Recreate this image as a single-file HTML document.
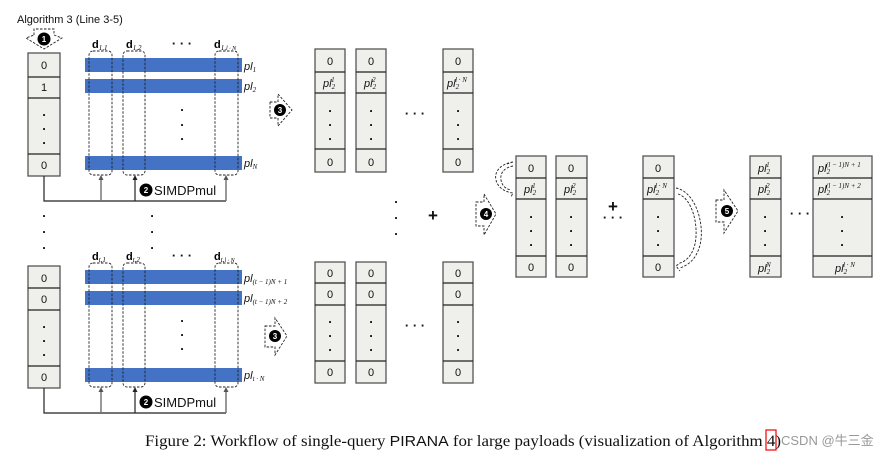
<!DOCTYPE html>
<html><head><meta charset="utf-8"><style>
body{margin:0;background:#fff;width:896px;height:456px;overflow:hidden}
svg{display:block}
.c{fill:#efefec;stroke:#555;stroke-width:1.3}
.t{font-family:"Liberation Sans",sans-serif;font-size:11px;fill:#111;text-anchor:middle}
.i{font-family:"Liberation Sans",sans-serif;font-size:11px;font-style:italic;fill:#111}
.s{font-family:"Liberation Serif",serif;font-size:7px;font-style:italic}
.b{fill:#4472c4}
.d{fill:none;stroke:#222;stroke-width:0.9;stroke-dasharray:2.5,1.5}
.n{font-family:"Liberation Sans",sans-serif;font-size:8px;font-weight:bold;fill:#fff;text-anchor:middle}
.l{stroke:#222;stroke-width:1.2;fill:none}
.g{stroke:#777;stroke-width:1.5;fill:none}
.dot{font-family:"Liberation Sans",sans-serif;font-size:13px;font-weight:bold;fill:#111;text-anchor:middle}
</style></head><body>
<svg width="896" height="456" viewBox="0 0 896 456">
<text x="17" y="23" font-family="Liberation Sans,sans-serif" font-size="11" fill="#111">Algorithm 3 (Line 3-5)</text>
<path class="d" d="M34,35 L34,29 L54,29 L54,35 L62,38 L44,49 L26,38 Z"/>
<circle cx="44" cy="39" r="6.5" fill="#000"/><text class="n" x="44" y="42">1</text>

<rect class="c" x="28" y="53" width="32" height="123"/>
<line class="l" x1="28" y1="77" x2="60" y2="77"/><line class="l" x1="28" y1="98" x2="60" y2="98"/><line class="l" x1="28" y1="154" x2="60" y2="154"/>
<text class="t" x="44" y="69">0</text><text class="t" x="44" y="91">1</text><text class="t" x="44" y="169">0</text>
<text class="dot" x="44" y="116">.</text><text class="dot" x="44" y="130">.</text><text class="dot" x="44" y="144">.</text>
<rect class="b" x="85" y="58" width="157" height="14"/>
<rect class="b" x="85" y="79" width="157" height="14"/>
<rect class="b" x="85" y="156" width="157" height="14"/>
<rect class="d" x="89" y="51" width="23" height="124" rx="4"/>
<rect class="d" x="123" y="51" width="22" height="124" rx="4"/>
<rect class="d" x="215" y="51" width="23" height="124" rx="4"/>
<text x="92" y="48" font-family="Liberation Sans,sans-serif" font-size="11" font-weight="bold">d<tspan class="s" font-weight="normal" dy="2">1,1</tspan></text>
<text x="126" y="48" font-family="Liberation Sans,sans-serif" font-size="11" font-weight="bold">d<tspan class="s" font-weight="normal" dy="2">1,2</tspan></text>
<text x="214" y="48" font-family="Liberation Sans,sans-serif" font-size="11" font-weight="bold">d<tspan class="s" font-weight="normal" dy="2">1,<tspan font-size="6">l · N</tspan></tspan></text>
<text class="dot" x="182" y="48">· · ·</text>
<text class="dot" x="182" y="111">.</text><text class="dot" x="182" y="126">.</text><text class="dot" x="182" y="140">.</text>
<text class="i" x="244" y="70">pl<tspan class="s" dy="2">1</tspan></text>
<text class="i" x="244" y="90">pl<tspan class="s" dy="2">2</tspan></text>
<text class="i" x="244" y="167">pl<tspan class="s" dy="2">N</tspan></text>
<path class="l" d="M44,176 L44,201 L226,201"/>
<path class="g" d="M101,201 L101,177"/><path d="M98.5,180 L101,175 L103.5,180Z" fill="#555"/>
<path class="l" d="M135,201 L135,177"/><path d="M132.5,180 L135,175 L137.5,180Z" fill="#222"/>
<path class="g" d="M226,201 L226,177"/><path d="M223.5,180 L226,175 L228.5,180Z" fill="#555"/>
<circle cx="146" cy="190" r="6.5" fill="#000"/><text class="n" x="146" y="193">2</text>
<text x="154" y="195" font-family="Liberation Sans,sans-serif" font-size="13" fill="#111">SIMDPmul</text>

<path class="d" d="M270,102 L278,102 L278,94 L292,110 L278,126 L278,118 L270,118 Z"/>
<circle cx="280" cy="110" r="6" fill="#000"/><text class="n" x="280" y="113">3</text>

<rect class="c" x="315" y="49" width="30" height="123"/><rect class="c" x="356" y="49" width="30" height="123"/><rect class="c" x="443" y="49" width="30" height="123"/>
<path class="l" d="M315,72H345M315,93H345M315,149H345M356,72H386M356,93H386M356,149H386M443,72H473M443,93H473M443,149H473"/>
<text class="t" x="330" y="65">0</text><text class="t" x="371" y="65">0</text><text class="t" x="458" y="65">0</text>
<text class="t" x="330" y="166">0</text><text class="t" x="371" y="166">0</text><text class="t" x="458" y="166">0</text>
<text class="i" x="323" y="87">pl<tspan class="s" dy="2">2</tspan><tspan class="s" dx="-4" dy="-7">1</tspan></text>
<text class="i" x="364" y="87">pl<tspan class="s" dy="2">2</tspan><tspan class="s" dx="-4" dy="-7">2</tspan></text>
<text class="i" x="447" y="87">pl<tspan class="s" dy="2">2</tspan><tspan class="s" dx="-4" dy="-7">l · N</tspan></text>
<text class="dot" x="330" y="112">.</text><text class="dot" x="330" y="126">.</text><text class="dot" x="330" y="140">.</text>
<text class="dot" x="371" y="112">.</text><text class="dot" x="371" y="126">.</text><text class="dot" x="371" y="140">.</text>
<text class="dot" x="458" y="112">.</text><text class="dot" x="458" y="126">.</text><text class="dot" x="458" y="140">.</text>
<text class="dot" x="415" y="118">· · ·</text>

<text class="dot" x="44" y="217">.</text><text class="dot" x="44" y="233">.</text><text class="dot" x="44" y="249">.</text>
<text class="dot" x="152" y="217">.</text><text class="dot" x="152" y="233">.</text><text class="dot" x="152" y="249">.</text>
<text class="dot" x="396" y="203">.</text><text class="dot" x="396" y="219">.</text><text class="dot" x="396" y="235">.</text>
<text x="433" y="221" font-family="Liberation Sans,sans-serif" font-size="17" font-weight="bold" text-anchor="middle" fill="#111">+</text>

<rect class="c" x="28" y="266" width="32" height="122"/>
<line class="l" x1="28" y1="288" x2="60" y2="288"/><line class="l" x1="28" y1="310" x2="60" y2="310"/><line class="l" x1="28" y1="366" x2="60" y2="366"/>
<text class="t" x="44" y="282">0</text><text class="t" x="44" y="303">0</text><text class="t" x="44" y="381">0</text>
<text class="dot" x="44" y="328">.</text><text class="dot" x="44" y="342">.</text><text class="dot" x="44" y="356">.</text>
<rect class="b" x="85" y="270" width="157" height="14"/>
<rect class="b" x="85" y="291" width="157" height="14"/>
<rect class="b" x="85" y="368" width="157" height="14"/>
<rect class="d" x="89" y="263" width="23" height="124" rx="4"/>
<rect class="d" x="123" y="263" width="22" height="124" rx="4"/>
<rect class="d" x="215" y="263" width="23" height="124" rx="4"/>
<text x="92" y="260" font-family="Liberation Sans,sans-serif" font-size="11" font-weight="bold">d<tspan class="s" font-weight="normal" dy="2">t,1</tspan></text>
<text x="126" y="260" font-family="Liberation Sans,sans-serif" font-size="11" font-weight="bold">d<tspan class="s" font-weight="normal" dy="2">t,2</tspan></text>
<text x="214" y="260" font-family="Liberation Sans,sans-serif" font-size="11" font-weight="bold">d<tspan class="s" font-weight="normal" dy="2">t,<tspan font-size="6">l · N</tspan></tspan></text>
<text class="dot" x="182" y="260">· · ·</text>
<text class="dot" x="182" y="322">.</text><text class="dot" x="182" y="336">.</text><text class="dot" x="182" y="350">.</text>
<text class="i" x="244" y="282">pl<tspan class="s" dy="2">(t − 1)N + 1</tspan></text>
<text class="i" x="244" y="302">pl<tspan class="s" dy="2">(t − 1)N + 2</tspan></text>
<text class="i" x="244" y="379">pl<tspan class="s" dy="2">t · N</tspan></text>
<path class="l" d="M44,388 L44,413 L226,413"/>
<path class="g" d="M101,413 L101,389"/><path d="M98.5,392 L101,387 L103.5,392Z" fill="#555"/>
<path class="l" d="M135,413 L135,389"/><path d="M132.5,392 L135,387 L137.5,392Z" fill="#222"/>
<path class="g" d="M226,413 L226,389"/><path d="M223.5,392 L226,387 L228.5,392Z" fill="#555"/>
<circle cx="146" cy="402" r="6.5" fill="#000"/><text class="n" x="146" y="405">2</text>
<text x="154" y="407" font-family="Liberation Sans,sans-serif" font-size="13" fill="#111">SIMDPmul</text>

<path class="d" d="M265,326 L275,326 L275,318 L287,336 L275,355 L275,347 L265,347 Z"/>
<circle cx="275" cy="336" r="6" fill="#000"/><text class="n" x="275" y="339">3</text>

<rect class="c" x="315" y="262" width="30" height="121"/><rect class="c" x="356" y="262" width="30" height="121"/><rect class="c" x="443" y="262" width="30" height="121"/>
<path class="l" d="M315,283H345M315,305H345M315,361H345M356,283H386M356,305H386M356,361H386M443,283H473M443,305H473M443,361H473"/>
<text class="t" x="330" y="277">0</text><text class="t" x="371" y="277">0</text><text class="t" x="458" y="277">0</text>
<text class="t" x="330" y="298">0</text><text class="t" x="371" y="298">0</text><text class="t" x="458" y="298">0</text>
<text class="t" x="330" y="376">0</text><text class="t" x="371" y="376">0</text><text class="t" x="458" y="376">0</text>
<text class="dot" x="330" y="323">.</text><text class="dot" x="330" y="337">.</text><text class="dot" x="330" y="351">.</text>
<text class="dot" x="371" y="323">.</text><text class="dot" x="371" y="337">.</text><text class="dot" x="371" y="351">.</text>
<text class="dot" x="458" y="323">.</text><text class="dot" x="458" y="337">.</text><text class="dot" x="458" y="351">.</text>
<text class="dot" x="415" y="330">· · ·</text>

<path class="d" d="M476,202 L484,202 L484,194 L496,214 L484,235 L484,226 L476,226 Z"/>
<circle cx="486" cy="214" r="6" fill="#000"/><text class="n" x="486" y="217">4</text>

<rect class="c" x="516" y="156" width="30" height="121"/><rect class="c" x="556" y="156" width="31" height="121"/><rect class="c" x="643" y="156" width="31" height="121"/>
<path class="l" d="M516,178H546M516,199H546M516,256H546M556,178H587M556,199H587M556,256H587M643,178H674M643,199H674M643,256H674"/>
<text class="t" x="531" y="172">0</text><text class="t" x="571" y="172">0</text><text class="t" x="658" y="172">0</text>
<text class="t" x="531" y="271">0</text><text class="t" x="571" y="271">0</text><text class="t" x="658" y="271">0</text>
<text class="i" x="524" y="193">pl<tspan class="s" dy="2">2</tspan><tspan class="s" dx="-4" dy="-7">1</tspan></text>
<text class="i" x="564" y="193">pl<tspan class="s" dy="2">2</tspan><tspan class="s" dx="-4" dy="-7">2</tspan></text>
<text class="i" x="647" y="193">pl<tspan class="s" dy="2">2</tspan><tspan class="s" dx="-4" dy="-7">l · N</tspan></text>
<text class="dot" x="531" y="218">.</text><text class="dot" x="531" y="232">.</text><text class="dot" x="531" y="246">.</text>
<text class="dot" x="571" y="218">.</text><text class="dot" x="571" y="232">.</text><text class="dot" x="571" y="246">.</text>
<text class="dot" x="658" y="218">.</text><text class="dot" x="658" y="232">.</text><text class="dot" x="658" y="246">.</text>
<text x="613" y="212" font-family="Liberation Sans,sans-serif" font-size="17" font-weight="bold" text-anchor="middle" fill="#111">+</text>
<text class="dot" x="613" y="222">· · ·</text>
<path class="d" d="M513,162 C500,164 494,172 496,180 C498,188 505,192 513,193 L511,197 M513,162 L507,164"/>
<path class="d" d="M513,166 C503,168 500,174 501,180 C502,186 506,189 511,190"/>
<path class="d" d="M676,188 C696,192 705,225 700,245 C696,260 688,265 680,268"/>
<path class="d" d="M678,194 C692,198 699,225 695,244 C692,256 686,261 680,263 L676,266 L680,271"/>
<path class="d" d="M716,200 L724,200 L724,190 L738,211 L724,233 L724,222 L716,222 Z"/>
<circle cx="727" cy="211" r="6" fill="#000"/><text class="n" x="727" y="214">5</text>

<rect class="c" x="750" y="156" width="31" height="121"/><rect class="c" x="813" y="156" width="59" height="121"/>
<path class="l" d="M750,178H781M750,199H781M750,256H781M813,178H872M813,199H872M813,256H872"/>
<text class="i" x="758" y="172">pl<tspan class="s" dy="2">2</tspan><tspan class="s" dx="-4" dy="-7">1</tspan></text>
<text class="i" x="758" y="193">pl<tspan class="s" dy="2">2</tspan><tspan class="s" dx="-4" dy="-7">2</tspan></text>
<text class="i" x="758" y="272">pl<tspan class="s" dy="2">2</tspan><tspan class="s" dx="-4" dy="-7">N</tspan></text>
<text class="i" x="818" y="172">pl<tspan class="s" dy="2">2</tspan><tspan class="s" dx="-4" dy="-7">(l − 1)N + 1</tspan></text>
<text class="i" x="818" y="193">pl<tspan class="s" dy="2">2</tspan><tspan class="s" dx="-4" dy="-7">(l − 1)N + 2</tspan></text>
<text class="i" x="835" y="272">pl<tspan class="s" dy="2">2</tspan><tspan class="s" dx="-4" dy="-7">l · N</tspan></text>
<text class="dot" x="765" y="218">.</text><text class="dot" x="765" y="232">.</text><text class="dot" x="765" y="246">.</text>
<text class="dot" x="842" y="218">.</text><text class="dot" x="842" y="232">.</text><text class="dot" x="842" y="246">.</text>
<text class="dot" x="800" y="218">· · ·</text>

<text x="145" y="446" font-family="Liberation Serif,serif" font-size="16" fill="#111" textLength="636" lengthAdjust="spacingAndGlyphs">Figure 2: Workflow of single-query <tspan font-family="Liberation Sans,sans-serif" font-size="15">PIRANA</tspan> for large payloads (visualization of Algorithm 4)</text>
<rect x="766" y="430" width="10" height="20" fill="none" stroke="#e00" stroke-width="1.2"/>
<text x="781" y="445" font-family="Liberation Sans,'Noto Sans CJK SC',sans-serif" font-size="13" fill="#999">CSDN @牛三金</text>
</svg>
</body></html>
